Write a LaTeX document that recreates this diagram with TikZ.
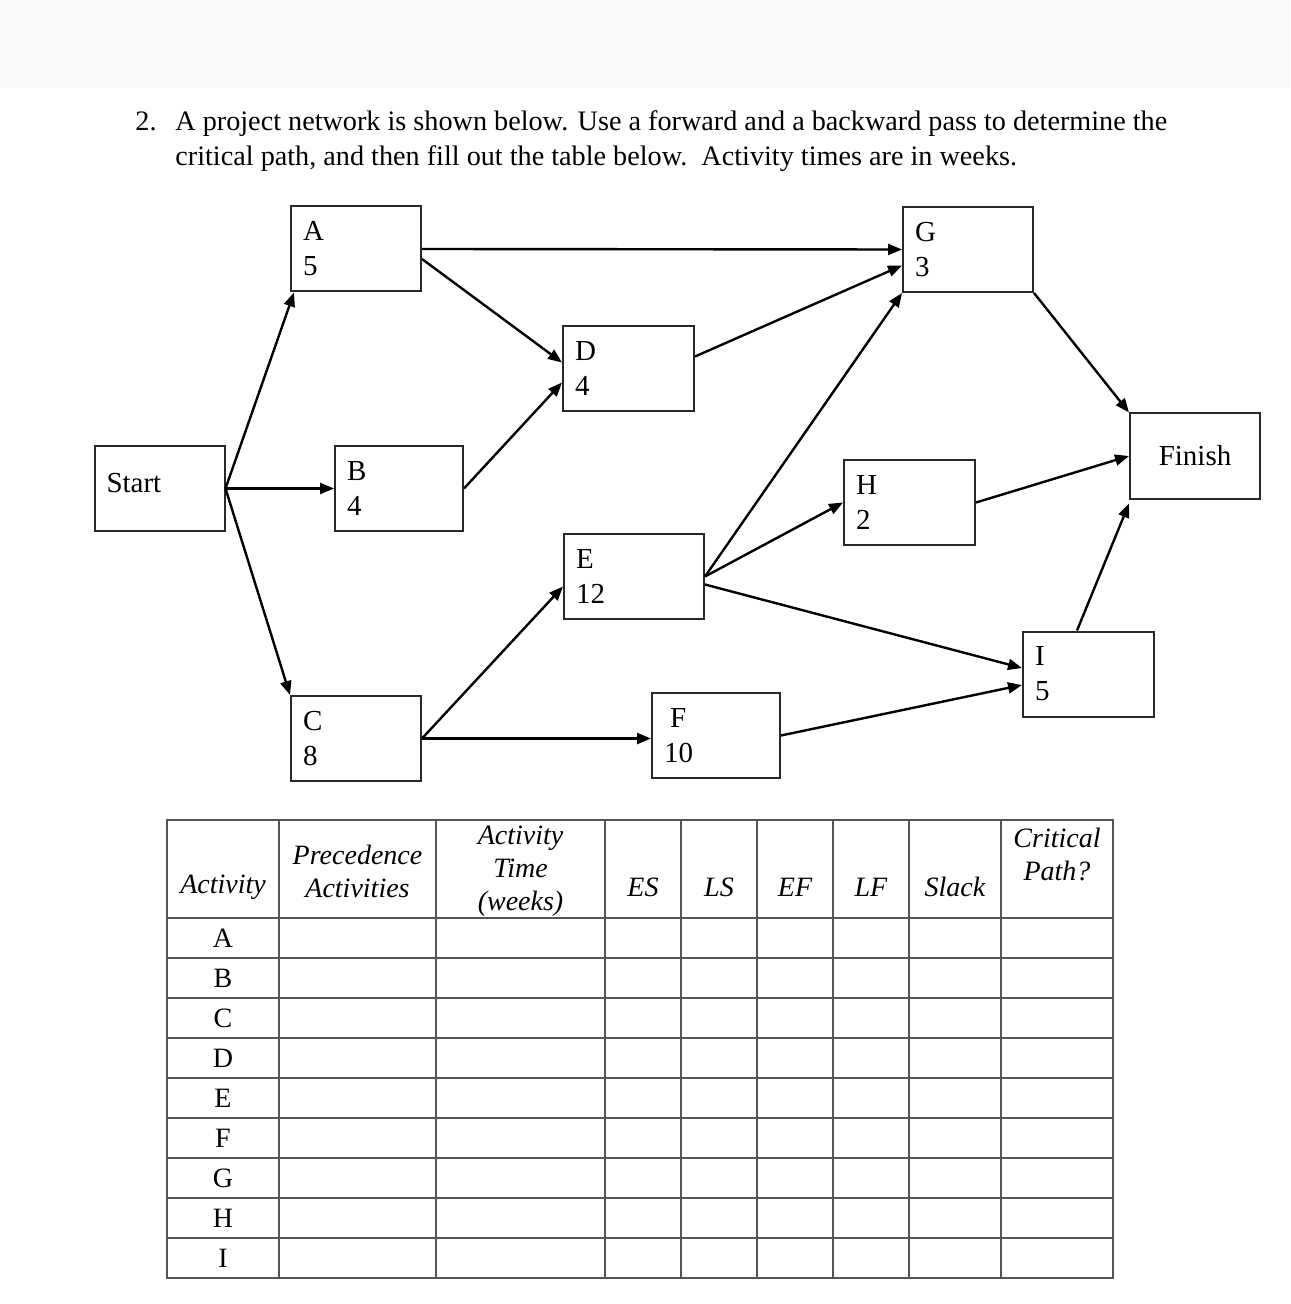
\documentclass[tikz,border=0pt]{standalone}
\usepackage{fontspec}
\setmainfont{Liberation Serif}
\usetikzlibrary{arrows.meta, positioning}
\definecolor{bandgray}{RGB}{249, 249, 249}
\definecolor{boxline}{RGB}{40, 40, 40}
\definecolor{gridline}{RGB}{85, 85, 85}

\begin{document}
\begin{tikzpicture}[x=0.5pt, y=-0.5pt,
		act/.style={draw=boxline, line width=1pt, align=left, inner xsep=6pt, inner ysep=0pt,
			minimum height=42.5pt, font=\fontsize{14.5}{17.5}\selectfont},
		dep/.style={-{Triangle[length=7pt, width=5.5pt]}, line width=1.2pt},
		tbl/.style={gridline, line width=1.3pt},
		hd/.style={font=\fontsize{14}{16.5}\selectfont\itshape, align=center, inner sep=0pt}]
	
	\useasboundingbox (0,0) rectangle (1290,1304);
	\fill[bandgray] (0,0) rectangle (1290,88);
	
	%--- Question text ---
	\node[anchor=base west, inner sep=0pt, font=\fontsize{14.1}{17.5}\selectfont] (qnum) at (135,131) {2.};
	\node[anchor=base west, inner sep=0pt, align=left, font=\fontsize{14.1}{17.5}\selectfont] (qtext) at (175,166)
	{A project network is shown below. Use a forward and a backward pass to determine the\\
		critical path, and then fill out the table below.\ \ Activity times are in weeks.};
	
	%--- Activity boxes ---
	\node[act, text width=53pt] (start) at (159.5,488.5) {\raisebox{6pt}{Start}};
	\node[act, text width=53pt] (A) at (356,249) {A\\5};
	\node[act, text width=52pt] (B) at (399,488.5) {B\\4};
	\node[act, text width=53pt] (C) at (356,738.5) {C\\8};
	\node[act, text width=53.5pt] (D) at (628.5,368.5) {D\\4};
	\node[act, text width=58pt] (E) at (634,576.5) {E\\12};
	\node[act, text width=52pt] (F) at (716,735.5) {\hspace{3pt}F\\10};
	\node[act, text width=53pt] (G) at (968,249.5) {G\\3};
	\node[act, text width=53.5pt] (H) at (909.5,502.5) {H\\2};
	\node[act, text width=53.5pt] (I) at (1088.5,674) {I\\5};
	\node[act, text width=53pt, align=center] (finish) at (1195,456) {Finish};
	
	%--- Precedence arrows ---
	\draw[dep] (start.east) -- ([xshift=2pt]A.south west);
	\draw[dep] (start.east) -- (B.west);
	\draw[dep] (start.east) -- (C.north west);
	\draw[dep] (A.east) -- (G.west);
	\draw[dep] ([yshift=-5pt]A.east) -- ([yshift=3pt]D.west);
	\draw[dep] (B.east) -- ([yshift=-7pt]D.west);
	\draw[dep] ([yshift=6pt]D.east) -- ([yshift=-8pt]G.west);
	\draw[dep] (E.east) -- (G.south west);
	\draw[dep] (E.east) -- (H.west);
	\draw[dep] ([yshift=-4pt]E.east) -- ([yshift=3pt]I.west);
	\draw[dep] (C.east) -- ([yshift=-5pt]E.west);
	\draw[dep] (C.east) -- (C.east -| F.west);
	\draw[dep] (F.east) -- ([yshift=-5.5pt]I.west);
	\draw[dep] (G.south east) -- (finish.north west);
	\draw[dep] (H.east) -- (finish.west);
	\draw[dep] ([xshift=-5.75pt]I.north) -- ([yshift=-2pt]finish.south west);
	
	%--- Table grid ---
	\draw[tbl] (167,820) rectangle (1113,1278);
	\foreach \x in {279,436,605,681,757,833,909,1001}
	\draw[tbl] (\x,820) -- (\x,1278);
	\foreach \y in {918,958,...,1238}
	\draw[tbl] (167,\y) -- (1113,\y);
	
	%--- Table header ---
	\node[hd] (hact) at (223,887) {Activity};
	\node[hd] (hprec) at (357.5,871) {Precedence\\Activities};
	\node[hd] (htime) at (520.5,871) {Activity\\Time\\(weeks)};
	\node[hd] (hes) at (643,887) {ES};
	\node[hd] (hls) at (719,887) {LS};
	\node[hd] (hef) at (795,887) {EF};
	\node[hd] (hlf) at (871,887) {LF};
	\node[hd] (hslack) at (955,887) {Slack};
	\node[hd] (hcrit) at (1057,854) {Critical\\Path?};
	
	%--- Activity rows ---
	\foreach \l [count=\i] in {A,B,C,D,E,F,G,H,I}
	\node[font=\fontsize{14}{16}\selectfont] (row\l) at (223,898+40*\i) {\l};
\end{tikzpicture}
\end{document}
